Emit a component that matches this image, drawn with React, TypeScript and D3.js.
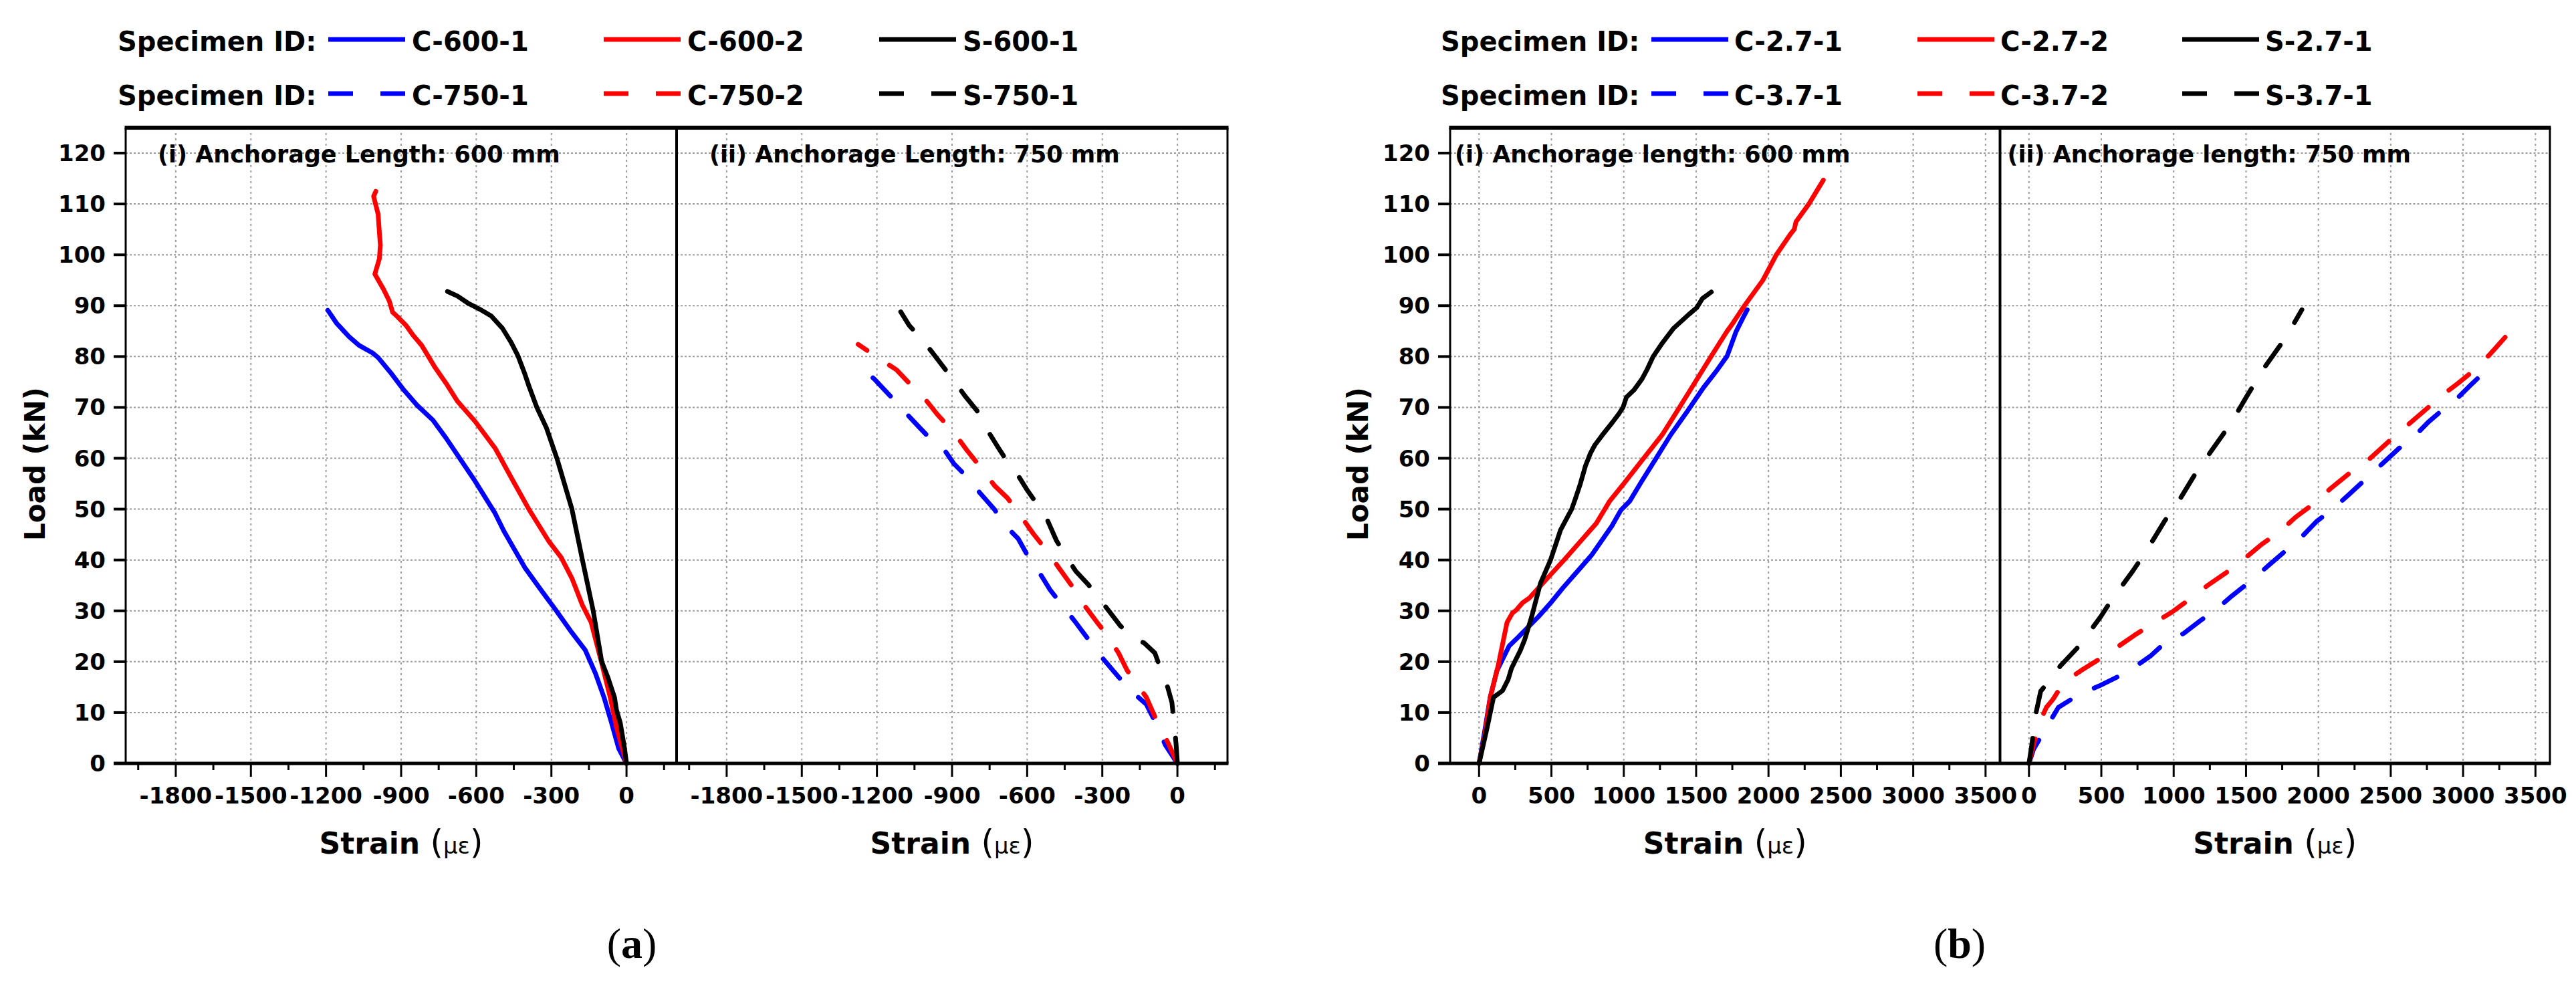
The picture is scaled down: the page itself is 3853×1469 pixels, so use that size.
import * as d3 from 'd3';

type Pt = [number, number]; // [strain (µε), load (kN)]

// ---- (a) anchorage 600 mm ----
const c600_1: Pt[] = [[0, 0], [-31, 2.9], [-60, 8], [-90, 13], [-124, 17.7], [-165, 22.3], [-218, 25.7], [-286, 30.4], [-337, 33.8], [-406, 38.5], [-491, 45.8], [-525, 49.2], [-610, 55.9], [-721, 64], [-773, 67.5], [-836, 70.4], [-889, 73.4], [-943, 76.9], [-992, 79.8], [-1014, 80.7], [-1068, 82.2], [-1108, 83.9], [-1157, 86.5], [-1175, 87.8], [-1193, 89.1]];
const c600_2: Pt[] = [[0, 0], [-39, 6.9], [-65, 13], [-99, 19.7], [-141, 27.7], [-176, 31.1], [-218, 36.4], [-261, 40.5], [-312, 43.8], [-346, 46.5], [-389, 49.9], [-457, 55.9], [-525, 62], [-604, 67.2], [-675, 71.2], [-720, 74.7], [-764, 77.8], [-818, 82.2], [-854, 84.3], [-880, 86.1], [-916, 87.9], [-934, 88.7], [-947, 90.9], [-970, 93.2], [-1005, 96.2], [-987, 99.2], [-983, 101.9], [-987, 104.5], [-992, 108], [-1010, 111.5], [-1001, 112.5]];
const s600_1: Pt[] = [[0, 0], [-8, 3], [-25, 8], [-40, 10.5], [-48, 13], [-75, 17], [-99, 20], [-133, 30], [-176, 40], [-218, 50], [-278, 60], [-320, 66], [-358, 70], [-389, 74.1], [-407, 76.7], [-434, 80.2], [-461, 82.8], [-496, 85.6], [-541, 88], [-586, 89.3], [-630, 90.4], [-675, 91.9], [-715, 92.8]];

// ---- (a) anchorage 750 mm ----
const c750_1: Pt[] = [[0, 0], [-48, 3.6], [-90, 8.3], [-124, 11.6], [-193, 14.6], [-235, 17], [-304, 21], [-406, 27.7], [-449, 30.4], [-508, 34.1], [-542, 36.8], [-601, 41.1], [-636, 44.2], [-696, 47.2], [-730, 49.9], [-789, 53.2], [-832, 55.9], [-892, 58.9], [-934, 61.9], [-1002, 64.6], [-1054, 67.3], [-1105, 70], [-1148, 72.3], [-1207, 75.4], [-1228, 76.4]];
const c750_2: Pt[] = [[0, 0], [-39, 4.2], [-82, 8.3], [-124, 13], [-201, 18.3], [-235, 21.7], [-278, 25], [-320, 27.7], [-372, 31.1], [-414, 34.4], [-474, 38.5], [-517, 41.5], [-576, 45.2], [-619, 48.2], [-679, 52.2], [-730, 54.6], [-781, 57.9], [-841, 61.6], [-892, 65], [-960, 68.7], [-1002, 71.3], [-1070, 74.7], [-1122, 77.4], [-1207, 80.1], [-1275, 82.4]];
const s750_1: Pt[] = [[0, 0], [-5, 3.6], [-14, 8.3], [-22, 12], [-39, 15], [-65, 18.3], [-90, 21.7], [-133, 23.7], [-167, 24.4], [-227, 27], [-269, 29.7], [-312, 32.4], [-355, 35.1], [-406, 37.8], [-449, 41.1], [-483, 43.8], [-525, 48.5], [-559, 50.9], [-602, 53.9], [-636, 56.6], [-679, 59.3], [-713, 61.9], [-756, 65.3], [-790, 68.7], [-849, 72.3], [-884, 74.7], [-926, 77.4], [-977, 80.7], [-1028, 83.8], [-1071, 86.1], [-1105, 88.8]];

// ---- (b) anchorage 600 mm ----
const c27_1: Pt[] = [[0, 0], [39, 6.4], [77, 13], [123, 18.2], [170, 20.9], [208, 23.1], [270, 24.8], [332, 26.6], [409, 28.8], [502, 31.8], [579, 34.5], [687, 38], [779, 41], [918, 46.7], [980, 49.8], [1042, 51.6], [1118, 55.2], [1221, 59.9], [1324, 64.6], [1441, 69.3], [1551, 73.9], [1636, 77], [1714, 80.1], [1776, 84.9], [1822, 87.5], [1853, 89.2]];
const c27_2: Pt[] = [[0, 0], [39, 5.5], [77, 13], [131, 19.1], [193, 27.7], [231, 29.6], [255, 30.1], [301, 31.6], [347, 32.5], [424, 34.9], [494, 37.1], [594, 40.2], [702, 43.7], [810, 47.2], [903, 51.6], [1000, 55], [1118, 59.3], [1265, 64.6], [1385, 70], [1470, 73.9], [1605, 80.1], [1714, 85], [1755, 86.6], [1768, 87.2], [1834, 90], [1961, 95], [2054, 100], [2150, 104], [2178, 105], [2190, 106.5], [2279, 110], [2379, 114.7]];
const s27_1: Pt[] = [[0, 0], [54, 6.8], [100, 13], [162, 14.3], [201, 16.5], [224, 18.7], [285, 22.2], [316, 24.4], [363, 28.8], [424, 35.4], [494, 40], [563, 45.9], [640, 50], [665, 52], [700, 55], [735, 58.5], [770, 61], [800, 62.6], [850, 64.5], [920, 67], [965, 68.7], [995, 70], [1018, 72], [1070, 73.4], [1126, 75.6], [1160, 77.4], [1203, 80], [1265, 82.6], [1342, 85.5], [1450, 88.3], [1504, 89.6], [1543, 91.4], [1605, 92.7]];

// ---- (b) anchorage 750 mm ----
const c37_1: Pt[] = [[0, 0], [32, 2.8], [117, 6.9], [203, 11], [337, 13.4], [497, 15.4], [619, 17.1], [717, 18.7], [839, 21.1], [936, 23.6], [1071, 25.6], [1181, 28], [1304, 30.5], [1401, 32.9], [1548, 36.2], [1658, 39], [1793, 42.3], [1890, 44.7], [1988, 47.6], [2099, 50], [2208, 52.8], [2319, 55.7], [2441, 58.9], [2551, 61.8], [2673, 64.6], [2759, 67.1], [2857, 69.5], [2967, 72], [3052, 74.4], [3126, 76.4]];
const c37_2: Pt[] = [[0, 0], [32, 3.7], [68, 7.7], [120, 11], [166, 12.6], [240, 15.9], [362, 18.3], [497, 20.7], [607, 22.8], [729, 25.2], [863, 27.6], [986, 29.7], [1120, 32.5], [1230, 34.9], [1377, 37.8], [1487, 40.2], [1609, 43.1], [1731, 45.5], [1842, 48.4], [1964, 51], [2086, 54.1], [2208, 56.9], [2331, 59.3], [2490, 63.4], [2624, 66.7], [2722, 69.1], [2857, 72.4], [2967, 74.8], [3089, 77.6], [3187, 80.5], [3297, 84]];
const s37_1: Pt[] = [[0, 0], [20, 3.7], [44, 9.3], [81, 14.2], [142, 16.3], [215, 19.1], [350, 23.2], [497, 28.9], [570, 32.1], [717, 37.8], [814, 41.9], [936, 47.6], [1035, 51.6], [1157, 57.3], [1279, 62.2], [1401, 67.1], [1499, 71.9], [1621, 77.6], [1743, 82.5], [1817, 85.8], [1886, 89.2]];

// ---- axes ----
const loadTicks = [0, 10, 20, 30, 40, 50, 60, 70, 80, 90, 100, 110, 120];
const negStrainTicks = [-1800, -1500, -1200, -900, -600, -300, 0];
const negStrainMinor = [-1950, -1650, -1350, -1050, -750, -450, -150, 150];
const posStrainTicks = [0, 500, 1000, 1500, 2000, 2500, 3000, 3500];
const posStrainMinor = [250, 750, 1250, 1750, 2250, 2750, 3250];

// ---- legend ----
const idsA600 = ['C-600-1', 'C-600-2', 'S-600-1'];
const idsA750 = ['C-750-1', 'C-750-2', 'S-750-1'];
const idsB600 = ['C-2.7-1', 'C-2.7-2', 'S-2.7-1'];
const idsB750 = ['C-3.7-1', 'C-3.7-2', 'S-3.7-1'];
const specimenColors = ['#0000ff', '#ff0000', '#000000'];

const FONT = "'DejaVu Sans', Verdana, sans-serif";
const Y_TOP = 191;
const Y_BOT = 1142;
const yScale = d3.scaleLinear().domain([0, 125]).range([Y_BOT, Y_TOP]);
const DASH = '38 40';
const GRID = '#9a9a9a';

interface SubPlotProps {
  left: number;
  width: number;
  domain: [number, number];
  majors: number[];
  minors: number[];
  title: string;
  titleDx: number;
  curves: Pt[][];
  dashed: boolean;
}

const SubPlot = ({ left, width, domain, majors, minors, title, titleDx, curves, dashed }: SubPlotProps) => {
  const x = d3.scaleLinear().domain(domain).range([left, left + width]);
  const line = d3.line<Pt>().x(d => x(d[0])).y(d => yScale(d[1]));
  const mid = left + width / 2;

  return (
    <g>
      {/* vertical grid */}
      {majors.map(t => (
        <line key={`g${t}`} x1={x(t)} x2={x(t)} y1={Y_TOP} y2={Y_BOT}
          stroke={GRID} strokeWidth={2} strokeDasharray="3 5" />
      ))}
      {/* horizontal grid */}
      {loadTicks.filter(t => t > 0).map(t => (
        <line key={`h${t}`} x1={left} x2={left + width} y1={yScale(t)} y2={yScale(t)}
          stroke={GRID} strokeWidth={2} strokeDasharray="3 3" />
      ))}
      {/* curves */}
      {curves.map((pts, i) => (
        <path key={i} d={line(pts) ?? ''} fill="none" stroke={specimenColors[i]}
          strokeWidth={7} strokeLinecap="round" strokeLinejoin="round"
          strokeDasharray={dashed ? DASH : undefined} />
      ))}
      {/* x ticks */}
      {majors.map(t => (
        <line key={`t${t}`} x1={x(t)} x2={x(t)} y1={Y_BOT} y2={Y_BOT + 20} stroke="#000" strokeWidth={3} />
      ))}
      {minors.map(t => (
        <line key={`m${t}`} x1={x(t)} x2={x(t)} y1={Y_BOT} y2={Y_BOT + 10} stroke="#000" strokeWidth={3} />
      ))}
      {majors.map(t => (
        <text key={`l${t}`} x={x(t)} y={Y_BOT + 60} textAnchor="middle"
          fontFamily={FONT} fontWeight="bold" fontSize={34}>{t}</text>
      ))}
      {/* x title */}
      <text x={mid} y={1277} textAnchor="middle" fontFamily={FONT}>
        <tspan fontWeight="bold" fontSize={44}>Strain </tspan>
        <tspan fontSize={50}>(</tspan>
        <tspan fontSize={34}>με</tspan>
        <tspan fontSize={50}>)</tspan>
      </text>
      {/* panel title */}
      <text x={left + titleDx} y={243} fontFamily={FONT} fontWeight="bold" fontSize={35}>{title}</text>
    </g>
  );
};

interface PanelProps {
  left: number;
  subWidth: number;
  domain: [number, number];
  majors: number[];
  minors: number[];
  titles: [string, string];
  titleDx: [number, number];
  curves600: Pt[][];
  curves750: Pt[][];
  ids600: string[];
  ids750: string[];
  legendX: number;
  legendLineX: number[];
  labelGap: number;
  yLabelX: number;
  caption: string;
  captionX: number;
}

const Panel = (p: PanelProps) => {
  const right = p.left + 2 * p.subWidth;
  const rows = [
    { ids: p.ids600, base: 76, dashed: false },
    { ids: p.ids750, base: 157, dashed: true },
  ];
  return (
    <g>
      <SubPlot left={p.left} width={p.subWidth} domain={p.domain} majors={p.majors} minors={p.minors}
        title={p.titles[0]} titleDx={p.titleDx[0]} curves={p.curves600} dashed={false} />
      <SubPlot left={p.left + p.subWidth} width={p.subWidth} domain={p.domain} majors={p.majors} minors={p.minors}
        title={p.titles[1]} titleDx={p.titleDx[1]} curves={p.curves750} dashed={true} />

      {/* frame */}
      <line x1={p.left} x2={p.left} y1={Y_TOP} y2={Y_BOT} stroke="#000" strokeWidth={3} />
      <line x1={right} x2={right} y1={Y_TOP} y2={Y_BOT} stroke="#000" strokeWidth={3} />
      <line x1={p.left + p.subWidth} x2={p.left + p.subWidth} y1={Y_TOP} y2={Y_BOT} stroke="#000" strokeWidth={4} />
      <line x1={p.left - 1.5} x2={right + 1.5} y1={Y_TOP} y2={Y_TOP} stroke="#000" strokeWidth={6} />
      <line x1={p.left - 18} x2={right + 1.5} y1={Y_BOT} y2={Y_BOT} stroke="#000" strokeWidth={5} />

      {/* y axis */}
      {loadTicks.map(t => (
        <g key={t}>
          <line x1={p.left - 18} x2={p.left} y1={yScale(t)} y2={yScale(t)} stroke="#000" strokeWidth={4} />
          <text x={p.left - 30} y={yScale(t) + 12} textAnchor="end"
            fontFamily={FONT} fontWeight="bold" fontSize={34}>{t}</text>
        </g>
      ))}
      <text transform={`translate(${p.yLabelX},694) rotate(-90)`} textAnchor="middle"
        fontFamily={FONT} fontWeight="bold" fontSize={42}>Load (kN)</text>

      {/* legend */}
      {rows.map((r, ri) => (
        <g key={ri}>
          <text x={p.legendX} y={r.base} fontFamily={FONT} fontWeight="bold" fontSize={40}>Specimen ID:</text>
          {r.ids.map((id, i) => (
            <g key={id}>
              <line x1={p.legendLineX[i]} x2={p.legendLineX[i] + 115} y1={r.base - 17} y2={r.base - 17}
                stroke={specimenColors[i]} strokeWidth={7}
                strokeDasharray={r.dashed ? '37 41' : undefined} />
              <text x={p.legendLineX[i] + 115 + p.labelGap} y={r.base}
                fontFamily={FONT} fontWeight="bold" fontSize={40}>{id}</text>
            </g>
          ))}
        </g>
      ))}

      {/* caption */}
      <text x={p.captionX} y={1433} textAnchor="middle" fontFamily="'Liberation Serif', 'Times New Roman', serif" fontSize={64}>
        <tspan>(</tspan>
        <tspan fontWeight="bold">{p.caption}</tspan>
        <tspan>)</tspan>
      </text>
    </g>
  );
};

const App = () => (
  <svg width={3853} height={1469} viewBox="0 0 3853 1469"
    style={{ position: 'absolute', left: 0, top: 0, background: '#fff', display: 'block' }}>
    <rect width={3853} height={1469} fill="#fff" />
    <Panel left={188} subWidth={824} domain={[-2000, 200]}
      majors={negStrainTicks} minors={negStrainMinor}
      titles={['(i) Anchorage Length: 600 mm', '(ii) Anchorage Length: 750 mm']} titleDx={[48, 49]}
      curves600={[c600_1, c600_2, s600_1]} curves750={[c750_1, c750_2, s750_1]}
      ids600={idsA600} ids750={idsA750}
      legendX={176} legendLineX={[491, 903, 1315]} labelGap={10}
      yLabelX={67} caption="a" captionX={945} />
    <Panel left={2169} subWidth={822.5} domain={[-200, 3600]}
      majors={posStrainTicks} minors={posStrainMinor}
      titles={['(i) Anchorage length: 600 mm', '(ii) Anchorage length: 750 mm']} titleDx={[7, 11]}
      curves600={[c27_1, c27_2, s27_1]} curves750={[c37_1, c37_2, s37_1]}
      ids600={idsB600} ids750={idsB750}
      legendX={2155} legendLineX={[2470, 2868, 3264]} labelGap={9}
      yLabelX={2046} caption="b" captionX={2931} />
  </svg>
);

export default App;
